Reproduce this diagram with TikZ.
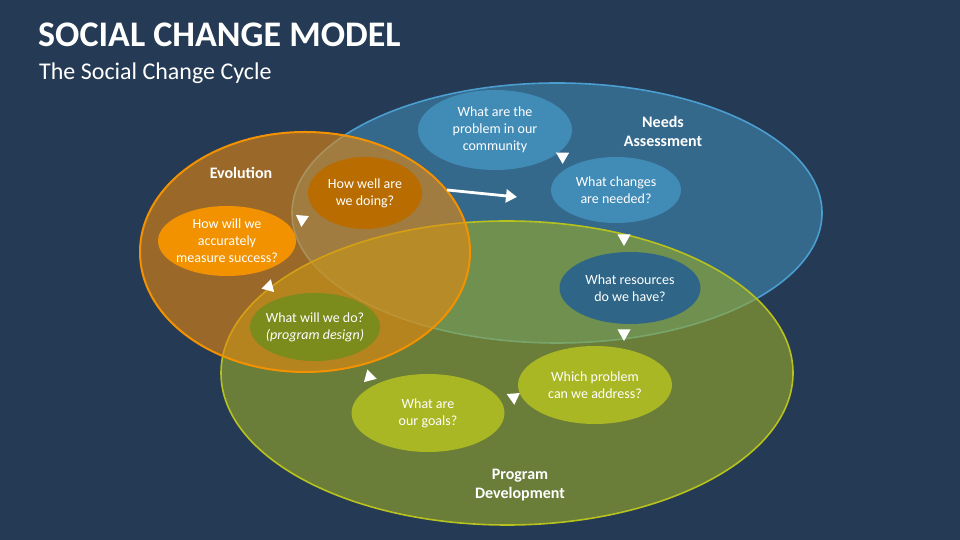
\documentclass[tikz,border=0pt]{standalone}
\usepackage{fontspec}
\setmainfont{Carlito}
\usetikzlibrary{shapes.geometric,arrows.meta}
\definecolor{bg}{HTML}{253A54}
\definecolor{bigblue}{HTML}{3F89B2}
\definecolor{bigblueline}{HTML}{4B9ED0}
\definecolor{biggreen}{HTML}{98AA28}
\definecolor{biggreenline}{HTML}{B7C21E}
\definecolor{bigorange}{HTML}{E8890F}
\definecolor{bigorangeline}{HTML}{F39200}
\definecolor{lblue}{HTML}{418BB7}
\definecolor{dblue}{HTML}{2F6688}
\definecolor{ygreen}{HTML}{A9B725}
\definecolor{olive}{HTML}{7B8B1C}
\definecolor{orng}{HTML}{F39200}
\definecolor{dorng}{HTML}{B96D00}
\tikzset{
  big/.style={line width=1.6pt, fill opacity=0.6},
  bubble/.style={ellipse, inner sep=-9pt, text=white, align=center,
    font=\fontsize{14}{17}\selectfont},
  lbl/.style={text=white, align=center, font=\fontsize{16}{19}\selectfont\bfseries},
  tri/.pic={\fill[white] (7,0) -- (-4.5,6.5) -- (-4.5,-6.5) -- cycle;}
}
\begin{document}
\begin{tikzpicture}[x=1pt,y=1pt]
\useasboundingbox (0,0) rectangle (960,540);
\fill[bg] (0,0) rectangle (960,540);
% big ellipses
\draw[big, fill=bigblue, draw=bigblueline] (557,327) ellipse [x radius=265, y radius=130];
\draw[big, fill=biggreen, draw=biggreenline] (507,167) ellipse [x radius=286, y radius=152];
\draw[big, fill=bigorange, draw=bigorangeline, line width=2pt] (305,288) ellipse [x radius=165, y radius=120];
% title
\node[anchor=west, text=white, font=\fontsize{36}{40}\selectfont\bfseries, inner sep=0] (title) at (38,505) {SOCIAL CHANGE MODEL};
\node[anchor=west, text=white, font=\fontsize{24}{28}\selectfont, inner sep=0] (subtitle) at (39,467) {The Social Change Cycle};
% labels
\node[lbl] (needs) at (663,409) {Needs\\Assessment};
\node[lbl] (evol) at (241,367) {Evolution};
\node[lbl] (prog) at (520,55) {Program\\Development};
% bubbles
\node[bubble, fill=lblue, minimum width=154pt, minimum height=80pt] (community) at (495,410) {What are the\\problem in our\\community};
\node[bubble, fill=lblue, minimum width=130pt, minimum height=66pt] (changes) at (616,350) {What changes\\are needed?};
\node[bubble, fill=dblue, minimum width=141pt, minimum height=72pt] (resources) at (630,252) {What resources\\do we have?};
\node[bubble, fill=ygreen, minimum width=154pt, minimum height=78pt] (which) at (595,155) {Which problem\\can we address?};
\node[bubble, fill=ygreen, minimum width=153pt, minimum height=78pt] (goals) at (428,127) {What are\\our goals?};
\node[bubble, fill=olive, minimum width=130pt, minimum height=68pt] (dodesign) at (315,213) {What will we do?\\\textit{(program design)}};
\node[bubble, fill=orng, minimum width=138pt, minimum height=70pt] (measure) at (227,299) {How will we\\accurately\\measure success?};
\node[bubble, fill=dorng, minimum width=114pt, minimum height=72pt] (well) at (365,347) {How well are\\we doing?};
% small triangle arrowheads
\pic[rotate=150] at (562,384) {tri};
\pic[rotate=-90] at (624,301) {tri};
\pic[rotate=-90] at (624,206) {tri};
\pic[rotate=155] at (513,143) {tri};
\pic[rotate=-15] at (370,163) {tri};
\pic[rotate=75] at (269,254) {tri};
\pic[rotate=-95] at (302,320) {tri};
% long arrow
\coordinate (a1) at (447,350);
\coordinate (a2) at (517,343);
\draw[white, line width=2.8pt, -{Triangle[length=11pt,width=13pt]}] (a1) -- (a2);
\end{tikzpicture}
\end{document}
